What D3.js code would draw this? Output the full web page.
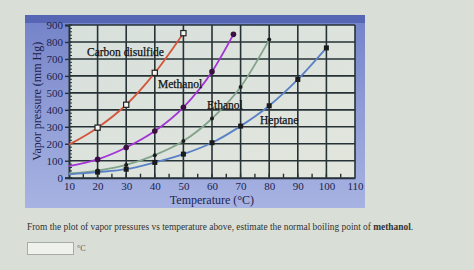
<!DOCTYPE html>
<html><head><meta charset="utf-8">
<script src="https://cdn.jsdelivr.net/npm/d3@7"></script>
<style>
html,body{margin:0;padding:0;background:#d9dfd6;}
svg{display:block;}
</style></head>
<body>
<svg id="c" width="474" height="270"></svg>
<script>
const xTicks = [10,20,30,40,50,60,70,80,90,100,110];
const yTicks = [0,100,200,300,400,500,600,700,800,900];

const cs2Temps = [10,20,30,40,50];
const cs2Values = [195,295,430,618,852];
const methanolTemps = [10,20,30,40,50,60,67.5];
const methanolValues = [68,108,178,275,415,625,845];
const ethanolTemps = [10,20,30,40,50,60,70,80];
const ethanolValues = [25,42,75,133,216,349,535,814];
const heptaneTemps = [10,20,30,40,50,60,70,80,90,100];
const heptaneValues = [20,33,50,90,139,206,304,424,579,765];

const seriesNames = ["Carbon disulfide","Methanol","Ethanol","Heptane"];

const svg = d3.select("#c");
const defs = svg.append("defs");
const g1 = defs.append("linearGradient").attr("id","panel").attr("x1","0").attr("y1","0").attr("x2","0").attr("y2","1");
g1.append("stop").attr("offset","0").attr("stop-color","#7381c8");
g1.append("stop").attr("offset","0.5").attr("stop-color","#909dd6");
g1.append("stop").attr("offset","1").attr("stop-color","#a7b3e2");
const g2 = defs.append("linearGradient").attr("id","plotbg").attr("x1","0").attr("y1","0").attr("x2","1").attr("y2","1");
g2.append("stop").attr("offset","0").attr("stop-color","#d8e0dc");
g2.append("stop").attr("offset","1").attr("stop-color","#e2e6dd");

// panel
svg.append("rect").attr("x",25).attr("y",15).attr("width",340).attr("height",193).attr("fill","url(#panel)");
svg.append("rect").attr("x",25).attr("y",15).attr("width",340).attr("height",8).attr("fill","#5766b4");

const x = d3.scaleLinear().domain([10,110]).range([69,355]);
const y = d3.scaleLinear().domain([0,900]).range([177.7,25]);

svg.append("rect").attr("x",x(10)).attr("y",y(900)).attr("width",x(110)-x(10)).attr("height",y(0)-y(900)).attr("fill","url(#plotbg)");

const gridColor = "#263236";
svg.append("g").selectAll("line").data(xTicks.slice(1)).join("line")
  .attr("x1",d=>x(d)).attr("x2",d=>x(d)).attr("y1",y(900)).attr("y2",y(0))
  .attr("stroke",gridColor).attr("stroke-width",1.6);
svg.append("g").selectAll("line").data(yTicks.slice(1)).join("line")
  .attr("x1",x(10)).attr("x2",x(110)).attr("y1",d=>y(d)).attr("y2",d=>y(d))
  .attr("stroke",gridColor).attr("stroke-width",1.6);

const fontSerif = "'Liberation Serif','DejaVu Serif',serif";
const xAxis = svg.append("g").attr("transform",`translate(0,${y(0)})`)
  .call(d3.axisBottom(x).tickValues(xTicks).tickSize(0).tickPadding(5));
xAxis.select(".domain").attr("stroke",gridColor).attr("stroke-width",2);
xAxis.selectAll("text").attr("font-family",fontSerif).attr("font-size",11).attr("fill","#1c2350");
svg.append("g").selectAll("line").data(d3.range(15,110,5)).join("line")
  .attr("x1",d=>x(d)).attr("x2",d=>x(d)).attr("y1",y(0)).attr("y2",y(0)-4)
  .attr("stroke",gridColor).attr("stroke-width",1.4);

const yAxis = svg.append("g").attr("transform",`translate(${x(10)},0)`)
  .call(d3.axisLeft(y).tickValues(yTicks).tickSize(4).tickPadding(2));
yAxis.select(".domain").attr("stroke",gridColor).attr("stroke-width",2);
yAxis.selectAll(".tick line").attr("stroke",gridColor).attr("stroke-width",1.4);
yAxis.selectAll("text").attr("font-family",fontSerif).attr("font-size",11).attr("fill","#1c2350");
svg.append("g").selectAll("line").data(d3.range(0,901,20)).join("line")
  .attr("x1",x(10)).attr("x2",x(10)+3).attr("y1",d=>y(d)).attr("y2",d=>y(d))
  .attr("stroke",gridColor).attr("stroke-width",1);

svg.append("text").attr("transform",`translate(41,${(y(0)+y(900))/2}) rotate(-90)`)
  .attr("text-anchor","middle").attr("font-family",fontSerif).attr("font-size",12).attr("fill","#1c2350")
  .text("Vapor pressure (mm Hg)");
svg.append("text").attr("x",212).attr("y",204).attr("text-anchor","middle")
  .attr("font-family",fontSerif).attr("font-size",12).attr("fill","#1c2350")
  .text("Temperature (\u00B0C)");

const line = d3.line().x(d=>x(d[0])).y(d=>y(d[1])).curve(d3.curveMonotoneX);
function series(temps, vals){ return temps.map((t,i)=>[t,vals[i]]); }

const data = [
  {pts:series(cs2Temps,cs2Values), color:"#d4563c", marker:"open"},
  {pts:series(methanolTemps,methanolValues), color:"#a433d6", marker:"circle"},
  {pts:series(ethanolTemps,ethanolValues), color:"#82a48a", marker:"dot"},
  {pts:series(heptaneTemps,heptaneValues), color:"#5a80c6", marker:"square"}
];

data.forEach(s=>{
  svg.append("path").datum(s.pts).attr("d",line).attr("fill","none").attr("stroke",s.color).attr("stroke-width",1.8);
});
data.forEach(s=>{
  const m = s.pts.filter(p=>p[0]>=20);
  const gm = svg.append("g");
  if(s.marker==="open"){
    gm.selectAll("rect").data(m).join("rect").attr("x",d=>x(d[0])-2.6).attr("y",d=>y(d[1])-2.6)
      .attr("width",5.2).attr("height",5.2).attr("fill","#f4f4f0").attr("stroke","#222").attr("stroke-width",1.2);
  } else if(s.marker==="circle"){
    gm.selectAll("circle").data(m).join("circle").attr("cx",d=>x(d[0])).attr("cy",d=>y(d[1])).attr("r",2.8).attr("fill","#3a1040");
  } else if(s.marker==="dot"){
    gm.selectAll("circle").data(m).join("circle").attr("cx",d=>x(d[0])).attr("cy",d=>y(d[1])).attr("r",2).attr("fill","#1a1a1a");
  } else {
    gm.selectAll("rect").data(m).join("rect").attr("x",d=>x(d[0])-2.5).attr("y",d=>y(d[1])-2.5)
      .attr("width",5).attr("height",5).attr("fill","#1a1a1a");
  }
});

const labelPos = [[87,56],[158,88],[207,109],[260,124]];
seriesNames.forEach((n,i)=>{
  svg.append("text").attr("x",labelPos[i][0]).attr("y",labelPos[i][1])
    .attr("font-family",fontSerif).attr("font-size",11.5).attr("fill","#111").attr("stroke","#111").attr("stroke-width",0.25).text(n);
});

const q = svg.append("text").attr("x",27).attr("y",230).attr("font-family",fontSerif).attr("font-size",9.4).attr("fill","#333");
q.append("tspan").text("From the plot of vapor pressures vs temperature above, estimate the normal boiling point of ");
q.append("tspan").attr("font-weight","bold").text("methanol");
q.append("tspan").text(".");
svg.append("rect").attr("x",27.5).attr("y",242.5).attr("width",46).attr("height",12).attr("fill","#eef1ec").attr("stroke","#a8aca6");
svg.append("text").attr("x",77).attr("y",251).attr("font-family",fontSerif).attr("font-size",8).attr("fill","#555").text("\u00B0C");
</script>
</body></html>
